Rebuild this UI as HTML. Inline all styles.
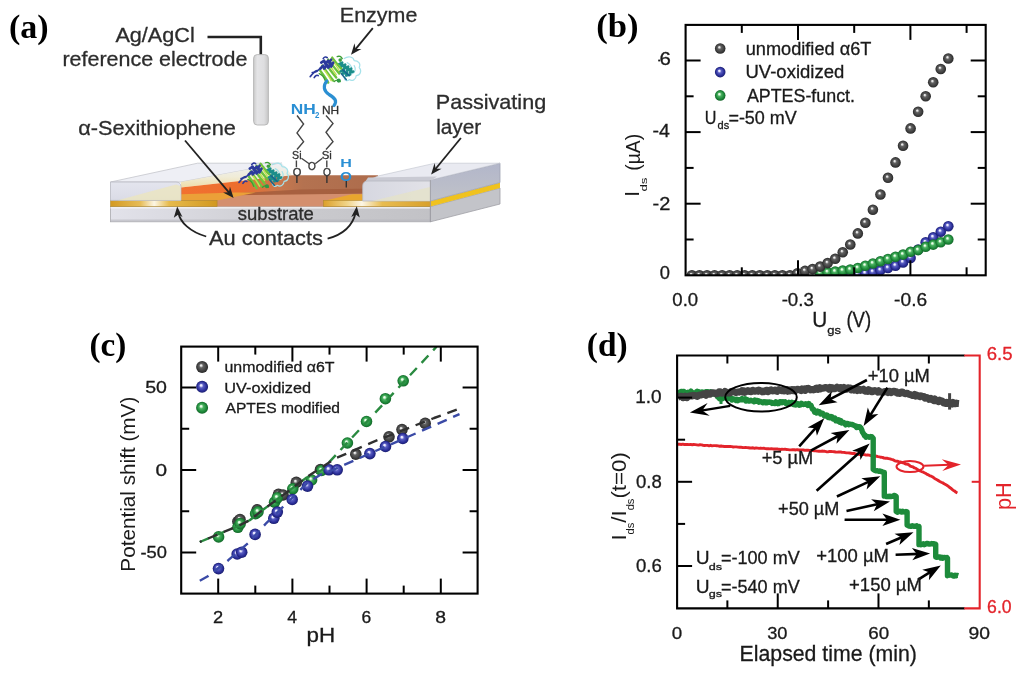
<!DOCTYPE html>
<html><head><meta charset="utf-8"><title>Figure</title>
<style>html,body{margin:0;padding:0;background:#fff;overflow:hidden}svg{display:block}</style>
</head><body>
<svg width="1024" height="673" viewBox="0 0 1024 673">
<rect width="1024" height="673" fill="#fff"/>

<defs>
<radialGradient id="gGrey" cx="0.5" cy="0.5" r="0.5" fx="0.4" fy="0.36">
 <stop offset="0" stop-color="#ffffff"/><stop offset="0.13" stop-color="#dedede"/><stop offset="0.34" stop-color="#626262"/><stop offset="0.75" stop-color="#404040"/><stop offset="1" stop-color="#272727"/></radialGradient>
<radialGradient id="gBlue" cx="0.5" cy="0.5" r="0.5" fx="0.4" fy="0.36">
 <stop offset="0" stop-color="#ffffff"/><stop offset="0.14" stop-color="#e4e4ff"/><stop offset="0.36" stop-color="#5a5ec2"/><stop offset="0.75" stop-color="#2b2f9a"/><stop offset="1" stop-color="#1b1e6e"/></radialGradient>
<radialGradient id="gGreen" cx="0.5" cy="0.5" r="0.5" fx="0.4" fy="0.36">
 <stop offset="0" stop-color="#ffffff"/><stop offset="0.14" stop-color="#dcf8dc"/><stop offset="0.36" stop-color="#4cb262"/><stop offset="0.75" stop-color="#1e8a3a"/><stop offset="1" stop-color="#146629"/></radialGradient>
<clipPath id="clipB"><rect x="686" y="25" width="299" height="250"/></clipPath>
<clipPath id="clipC"><rect x="182" y="347" width="295" height="246"/></clipPath>
<clipPath id="clipD"><rect x="678" y="356" width="301" height="252"/></clipPath>
</defs>

<text x="8.97" y="37.96" font-family="'Liberation Serif', 'Times New Roman', serif" font-weight="bold" font-size="32.75" fill="#000" stroke="#000" stroke-width="0" textLength="39.73" lengthAdjust="spacingAndGlyphs" >(a)</text>
<text x="596.24" y="36.54" font-family="'Liberation Serif', 'Times New Roman', serif" font-weight="bold" font-size="33.30" fill="#000" stroke="#000" stroke-width="0" textLength="42.32" lengthAdjust="spacingAndGlyphs" >(b)</text>
<text x="89.50" y="355.94" font-family="'Liberation Serif', 'Times New Roman', serif" font-weight="bold" font-size="32.86" fill="#000" stroke="#000" stroke-width="0" textLength="36.89" lengthAdjust="spacingAndGlyphs" >(c)</text>
<text x="586.80" y="355.78" font-family="'Liberation Serif', 'Times New Roman', serif" font-weight="bold" font-size="32.64" fill="#000" stroke="#000" stroke-width="0" textLength="40.81" lengthAdjust="spacingAndGlyphs" >(d)</text>
<g clip-path="url(#clipB)">
<circle cx="850.28" cy="275.30" r="5.30" fill="url(#gBlue)"/>
<circle cx="857.82" cy="274.30" r="5.30" fill="url(#gBlue)"/>
<circle cx="865.36" cy="273.30" r="5.30" fill="url(#gBlue)"/>
<circle cx="872.90" cy="271.90" r="5.30" fill="url(#gBlue)"/>
<circle cx="880.44" cy="270.20" r="5.30" fill="url(#gBlue)"/>
<circle cx="887.98" cy="268.00" r="5.30" fill="url(#gBlue)"/>
<circle cx="895.52" cy="265.70" r="5.30" fill="url(#gBlue)"/>
<circle cx="903.06" cy="262.40" r="5.30" fill="url(#gBlue)"/>
<circle cx="910.60" cy="257.90" r="5.30" fill="url(#gBlue)"/>
<circle cx="918.14" cy="249.50" r="5.30" fill="url(#gBlue)"/>
<circle cx="925.68" cy="242.30" r="5.30" fill="url(#gBlue)"/>
<circle cx="933.22" cy="237.30" r="5.30" fill="url(#gBlue)"/>
<circle cx="940.76" cy="231.70" r="5.30" fill="url(#gBlue)"/>
<circle cx="948.30" cy="226.20" r="5.30" fill="url(#gBlue)"/>
<circle cx="820.12" cy="273.00" r="5.30" fill="url(#gGreen)"/>
<circle cx="827.66" cy="272.20" r="5.30" fill="url(#gGreen)"/>
<circle cx="835.20" cy="271.60" r="5.30" fill="url(#gGreen)"/>
<circle cx="842.74" cy="270.60" r="5.30" fill="url(#gGreen)"/>
<circle cx="850.28" cy="269.60" r="5.30" fill="url(#gGreen)"/>
<circle cx="857.82" cy="268.00" r="5.30" fill="url(#gGreen)"/>
<circle cx="865.36" cy="265.70" r="5.30" fill="url(#gGreen)"/>
<circle cx="872.90" cy="263.50" r="5.30" fill="url(#gGreen)"/>
<circle cx="880.44" cy="261.30" r="5.30" fill="url(#gGreen)"/>
<circle cx="887.98" cy="259.00" r="5.30" fill="url(#gGreen)"/>
<circle cx="895.52" cy="256.80" r="5.30" fill="url(#gGreen)"/>
<circle cx="903.06" cy="254.60" r="5.30" fill="url(#gGreen)"/>
<circle cx="910.60" cy="251.80" r="5.30" fill="url(#gGreen)"/>
<circle cx="918.14" cy="250.10" r="5.30" fill="url(#gGreen)"/>
<circle cx="925.68" cy="246.80" r="5.30" fill="url(#gGreen)"/>
<circle cx="933.22" cy="244.60" r="5.30" fill="url(#gGreen)"/>
<circle cx="940.76" cy="242.30" r="5.30" fill="url(#gGreen)"/>
<circle cx="948.30" cy="239.50" r="5.30" fill="url(#gGreen)"/>
<circle cx="691.94" cy="275.30" r="5.30" fill="url(#gGrey)"/>
<circle cx="699.48" cy="275.30" r="5.30" fill="url(#gGrey)"/>
<circle cx="707.02" cy="275.30" r="5.30" fill="url(#gGrey)"/>
<circle cx="714.56" cy="275.30" r="5.30" fill="url(#gGrey)"/>
<circle cx="722.10" cy="275.30" r="5.30" fill="url(#gGrey)"/>
<circle cx="729.64" cy="275.30" r="5.30" fill="url(#gGrey)"/>
<circle cx="737.18" cy="275.30" r="5.30" fill="url(#gGrey)"/>
<circle cx="744.72" cy="275.30" r="5.30" fill="url(#gGrey)"/>
<circle cx="752.26" cy="275.30" r="5.30" fill="url(#gGrey)"/>
<circle cx="759.80" cy="275.30" r="5.30" fill="url(#gGrey)"/>
<circle cx="767.34" cy="275.30" r="5.30" fill="url(#gGrey)"/>
<circle cx="774.88" cy="275.30" r="5.30" fill="url(#gGrey)"/>
<circle cx="782.42" cy="275.30" r="5.30" fill="url(#gGrey)"/>
<circle cx="789.96" cy="275.30" r="5.30" fill="url(#gGrey)"/>
<circle cx="797.50" cy="273.30" r="5.30" fill="url(#gGrey)"/>
<circle cx="805.04" cy="270.90" r="5.30" fill="url(#gGrey)"/>
<circle cx="812.58" cy="269.10" r="5.30" fill="url(#gGrey)"/>
<circle cx="820.12" cy="266.60" r="5.30" fill="url(#gGrey)"/>
<circle cx="827.66" cy="263.10" r="5.30" fill="url(#gGrey)"/>
<circle cx="835.20" cy="258.80" r="5.30" fill="url(#gGrey)"/>
<circle cx="842.74" cy="252.30" r="5.30" fill="url(#gGrey)"/>
<circle cx="850.28" cy="244.50" r="5.30" fill="url(#gGrey)"/>
<circle cx="857.82" cy="233.40" r="5.30" fill="url(#gGrey)"/>
<circle cx="865.36" cy="222.70" r="5.30" fill="url(#gGrey)"/>
<circle cx="872.90" cy="209.70" r="5.30" fill="url(#gGrey)"/>
<circle cx="880.44" cy="194.50" r="5.30" fill="url(#gGrey)"/>
<circle cx="887.98" cy="177.80" r="5.30" fill="url(#gGrey)"/>
<circle cx="895.52" cy="162.40" r="5.30" fill="url(#gGrey)"/>
<circle cx="903.06" cy="145.70" r="5.30" fill="url(#gGrey)"/>
<circle cx="910.60" cy="128.40" r="5.30" fill="url(#gGrey)"/>
<circle cx="918.14" cy="111.80" r="5.30" fill="url(#gGrey)"/>
<circle cx="925.68" cy="96.30" r="5.30" fill="url(#gGrey)"/>
<circle cx="933.22" cy="82.30" r="5.30" fill="url(#gGrey)"/>
<circle cx="940.76" cy="69.00" r="5.30" fill="url(#gGrey)"/>
<circle cx="948.30" cy="58.50" r="5.30" fill="url(#gGrey)"/>
</g>
<rect x="685.6" y="24.9" width="300.10" height="250.40" fill="none" stroke="#000" stroke-width="2.1"/>
<line x1="741.80" y1="275.30" x2="741.80" y2="267.30" stroke="#000" stroke-width="2" />
<line x1="741.80" y1="24.90" x2="741.80" y2="32.90" stroke="#000" stroke-width="2" />
<line x1="798.00" y1="275.30" x2="798.00" y2="260.30" stroke="#000" stroke-width="2" />
<line x1="798.00" y1="24.90" x2="798.00" y2="39.90" stroke="#000" stroke-width="2" />
<line x1="854.20" y1="275.30" x2="854.20" y2="267.30" stroke="#000" stroke-width="2" />
<line x1="854.20" y1="24.90" x2="854.20" y2="32.90" stroke="#000" stroke-width="2" />
<line x1="910.40" y1="275.30" x2="910.40" y2="260.30" stroke="#000" stroke-width="2" />
<line x1="910.40" y1="24.90" x2="910.40" y2="39.90" stroke="#000" stroke-width="2" />
<line x1="966.60" y1="275.30" x2="966.60" y2="267.30" stroke="#000" stroke-width="2" />
<line x1="966.60" y1="24.90" x2="966.60" y2="32.90" stroke="#000" stroke-width="2" />
<line x1="685.60" y1="239.50" x2="693.60" y2="239.50" stroke="#000" stroke-width="2" />
<line x1="985.70" y1="239.50" x2="977.70" y2="239.50" stroke="#000" stroke-width="2" />
<line x1="685.60" y1="203.70" x2="700.60" y2="203.70" stroke="#000" stroke-width="2" />
<line x1="985.70" y1="203.70" x2="970.70" y2="203.70" stroke="#000" stroke-width="2" />
<line x1="685.60" y1="167.90" x2="693.60" y2="167.90" stroke="#000" stroke-width="2" />
<line x1="985.70" y1="167.90" x2="977.70" y2="167.90" stroke="#000" stroke-width="2" />
<line x1="685.60" y1="132.10" x2="700.60" y2="132.10" stroke="#000" stroke-width="2" />
<line x1="985.70" y1="132.10" x2="970.70" y2="132.10" stroke="#000" stroke-width="2" />
<line x1="685.60" y1="96.30" x2="693.60" y2="96.30" stroke="#000" stroke-width="2" />
<line x1="985.70" y1="96.30" x2="977.70" y2="96.30" stroke="#000" stroke-width="2" />
<line x1="685.60" y1="60.50" x2="700.60" y2="60.50" stroke="#000" stroke-width="2" />
<line x1="985.70" y1="60.50" x2="970.70" y2="60.50" stroke="#000" stroke-width="2" />
<text x="659.87" y="279.10" font-family="'Liberation Sans', Arial, sans-serif" font-size="17.60" fill="#1a1a1a" stroke="#1a1a1a" stroke-width="0.3" textLength="10.20" lengthAdjust="spacingAndGlyphs" >0</text>
<text x="652.60" y="209.60" font-family="'Liberation Sans', Arial, sans-serif" font-size="17.60" fill="#1a1a1a" stroke="#1a1a1a" stroke-width="0.3" textLength="17.78" lengthAdjust="spacingAndGlyphs" >-2</text>
<text x="652.62" y="137.20" font-family="'Liberation Sans', Arial, sans-serif" font-size="17.60" fill="#1a1a1a" stroke="#1a1a1a" stroke-width="0.3" textLength="17.35" lengthAdjust="spacingAndGlyphs" >-4</text>
<text x="659.58" y="64.80" font-family="'Liberation Sans', Arial, sans-serif" font-size="17.60" fill="#1a1a1a" stroke="#1a1a1a" stroke-width="0.3" textLength="11.36" lengthAdjust="spacingAndGlyphs" >6</text>
<rect x="658.2" y="59.6" width="1.8" height="1.8" fill="#1a1a1a"/>
<text x="672.36" y="305.60" font-family="'Liberation Sans', Arial, sans-serif" font-size="17.60" fill="#1a1a1a" stroke="#1a1a1a" stroke-width="0.3" textLength="25.79" lengthAdjust="spacingAndGlyphs" >0.0</text>
<text x="781.66" y="305.60" font-family="'Liberation Sans', Arial, sans-serif" font-size="17.60" fill="#1a1a1a" stroke="#1a1a1a" stroke-width="0.3" textLength="32.15" lengthAdjust="spacingAndGlyphs" >-0.3</text>
<text x="894.14" y="305.60" font-family="'Liberation Sans', Arial, sans-serif" font-size="17.60" fill="#1a1a1a" stroke="#1a1a1a" stroke-width="0.3" textLength="32.99" lengthAdjust="spacingAndGlyphs" >-0.6</text>
<text x="812.19" y="326.90" font-family="'Liberation Sans', Arial, sans-serif" font-size="22.00" fill="#1a1a1a" stroke="#1a1a1a" stroke-width="0.3" textLength="15.01" lengthAdjust="spacingAndGlyphs" >U</text>
<text x="827.18" y="333.60" font-family="'Liberation Sans', Arial, sans-serif" font-size="10.50" fill="#1a1a1a" stroke="#1a1a1a" stroke-width="0.3" textLength="13.69" lengthAdjust="spacingAndGlyphs" >gs</text>
<text x="846.38" y="326.90" font-family="'Liberation Sans', Arial, sans-serif" font-size="22.00" fill="#1a1a1a" stroke="#1a1a1a" stroke-width="0.3" textLength="24.79" lengthAdjust="spacingAndGlyphs" >(V)</text>
<g transform="translate(639.4,196.8) rotate(-90)"><text x="0" y="0" font-family="'Liberation Sans', Arial, sans-serif" font-size="20.7" fill="#1a1a1a">I</text></g>
<g transform="translate(646.50,191.00) rotate(-90)"><text x="-0.53" y="0" font-family="'Liberation Sans', Arial, sans-serif" font-size="9.80" fill="#1a1a1a" textLength="14.01" lengthAdjust="spacingAndGlyphs">ds</text></g>
<g transform="translate(640.00,169.60) rotate(-90)"><text x="-1.16" y="0" font-family="'Liberation Sans', Arial, sans-serif" font-size="20.50" fill="#1a1a1a" textLength="36.90" lengthAdjust="spacingAndGlyphs">(µA)</text></g>
<circle cx="720.20" cy="48.50" r="5.30" fill="url(#gGrey)"/>
<circle cx="720.20" cy="72.10" r="5.30" fill="url(#gBlue)"/>
<circle cx="720.20" cy="95.40" r="5.30" fill="url(#gGreen)"/>
<text x="745.72" y="55.30" font-family="'Liberation Sans', Arial, sans-serif" font-size="18.00" fill="#1a1a1a" stroke="#1a1a1a" stroke-width="0.3" textLength="125.65" lengthAdjust="spacingAndGlyphs" >unmodified α6T</text>
<text x="745.51" y="78.40" font-family="'Liberation Sans', Arial, sans-serif" font-size="18.00" fill="#1a1a1a" stroke="#1a1a1a" stroke-width="0.3" textLength="98.71" lengthAdjust="spacingAndGlyphs" >UV-oxidized</text>
<text x="746.90" y="101.80" font-family="'Liberation Sans', Arial, sans-serif" font-size="18.00" fill="#1a1a1a" stroke="#1a1a1a" stroke-width="0.3" textLength="108.16" lengthAdjust="spacingAndGlyphs" >APTES-funct.</text>
<text x="704.69" y="123.60" font-family="'Liberation Sans', Arial, sans-serif" font-size="17.60" fill="#1a1a1a" stroke="#1a1a1a" stroke-width="0.3" textLength="11.66" lengthAdjust="spacingAndGlyphs" >U</text>
<text x="717.56" y="128.90" font-family="'Liberation Sans', Arial, sans-serif" font-size="10.70" fill="#1a1a1a" stroke="#1a1a1a" stroke-width="0.3" textLength="11.64" lengthAdjust="spacingAndGlyphs" >ds</text>
<text x="728.40" y="123.60" font-family="'Liberation Sans', Arial, sans-serif" font-size="18.00" fill="#1a1a1a" stroke="#1a1a1a" stroke-width="0.3" textLength="68.43" lengthAdjust="spacingAndGlyphs" >=-50 mV</text>
<g clip-path="url(#clipC)">
<circle cx="237.90" cy="521.50" r="5.80" fill="url(#gGrey)"/>
<circle cx="240.00" cy="519.50" r="5.80" fill="url(#gGrey)"/>
<circle cx="257.20" cy="509.90" r="5.80" fill="url(#gGrey)"/>
<circle cx="278.50" cy="494.40" r="5.80" fill="url(#gGrey)"/>
<circle cx="283.00" cy="495.00" r="5.80" fill="url(#gGrey)"/>
<circle cx="296.30" cy="482.40" r="5.80" fill="url(#gGrey)"/>
<circle cx="320.50" cy="469.50" r="5.80" fill="url(#gGrey)"/>
<circle cx="355.80" cy="454.20" r="5.80" fill="url(#gGrey)"/>
<circle cx="389.00" cy="436.80" r="5.80" fill="url(#gGrey)"/>
<circle cx="402.00" cy="429.60" r="5.80" fill="url(#gGrey)"/>
<circle cx="425.20" cy="423.40" r="5.80" fill="url(#gGrey)"/>
<circle cx="218.60" cy="536.90" r="5.80" fill="url(#gGreen)"/>
<circle cx="237.90" cy="527.30" r="5.80" fill="url(#gGreen)"/>
<circle cx="240.20" cy="523.60" r="5.80" fill="url(#gGreen)"/>
<circle cx="255.60" cy="513.70" r="5.80" fill="url(#gGreen)"/>
<circle cx="258.00" cy="511.80" r="5.80" fill="url(#gGreen)"/>
<circle cx="274.60" cy="502.20" r="5.80" fill="url(#gGreen)"/>
<circle cx="277.30" cy="497.80" r="5.80" fill="url(#gGreen)"/>
<circle cx="292.80" cy="488.80" r="5.80" fill="url(#gGreen)"/>
<circle cx="311.60" cy="480.00" r="5.80" fill="url(#gGreen)"/>
<circle cx="321.60" cy="470.50" r="5.80" fill="url(#gGreen)"/>
<circle cx="347.40" cy="443.00" r="5.80" fill="url(#gGreen)"/>
<circle cx="366.50" cy="421.50" r="5.80" fill="url(#gGreen)"/>
<circle cx="385.40" cy="398.70" r="5.80" fill="url(#gGreen)"/>
<circle cx="403.20" cy="380.80" r="5.80" fill="url(#gGreen)"/>
<circle cx="218.50" cy="568.60" r="5.80" fill="url(#gBlue)"/>
<circle cx="237.20" cy="554.00" r="5.80" fill="url(#gBlue)"/>
<circle cx="241.70" cy="552.20" r="5.80" fill="url(#gBlue)"/>
<circle cx="255.10" cy="534.40" r="5.80" fill="url(#gBlue)"/>
<circle cx="273.80" cy="518.30" r="5.80" fill="url(#gBlue)"/>
<circle cx="277.30" cy="512.10" r="5.80" fill="url(#gBlue)"/>
<circle cx="292.20" cy="499.50" r="5.80" fill="url(#gBlue)"/>
<circle cx="307.50" cy="486.10" r="5.80" fill="url(#gBlue)"/>
<circle cx="329.00" cy="469.80" r="5.80" fill="url(#gBlue)"/>
<circle cx="337.20" cy="469.80" r="5.80" fill="url(#gBlue)"/>
<circle cx="369.90" cy="453.60" r="5.80" fill="url(#gBlue)"/>
<circle cx="385.50" cy="446.50" r="5.80" fill="url(#gBlue)"/>
<circle cx="402.80" cy="438.50" r="5.80" fill="url(#gBlue)"/>
</g>
<g clip-path="url(#clipC)" fill="none" stroke-width="2.4" stroke-dasharray="10,7" stroke-linejoin="round">
<path d="M199.8,542 L217.6,534.5 L236,527 L249.7,520.2 L264.7,508.5 L290,490 L306.7,477.5 L321.9,470 L339.3,451.3 L436.5,346.8" stroke="#2a8a40"/>
<path d="M199.8,542 L217.6,534.5 L236,527 L249.7,520.2 L264.7,508.5 L290,490 L306.7,477 L321,467.8 L335,458.6 L345.4,454.2 L372.1,442.3 L434.1,418 L459.5,408.7" stroke="#303030" stroke-dashoffset="8"/>
<path d="M199.8,580.7 L207.8,576.3 L228.3,560.2 L248.8,542.4 L266.6,522.8 L290,500 L307.4,482.9 L320,475 L334.4,469.3 L376.6,450.5 L434.8,425.1 L459.5,414.1" stroke="#3a4aa6"/>
</g>
<rect x="181.2" y="346.6" width="296.40" height="247.00" fill="none" stroke="#000" stroke-width="2.1"/>
<line x1="218.20" y1="593.60" x2="218.20" y2="578.60" stroke="#000" stroke-width="2" />
<line x1="218.20" y1="346.60" x2="218.20" y2="361.60" stroke="#000" stroke-width="2" />
<line x1="255.30" y1="593.60" x2="255.30" y2="585.60" stroke="#000" stroke-width="2" />
<line x1="255.30" y1="346.60" x2="255.30" y2="354.60" stroke="#000" stroke-width="2" />
<line x1="292.40" y1="593.60" x2="292.40" y2="578.60" stroke="#000" stroke-width="2" />
<line x1="292.40" y1="346.60" x2="292.40" y2="361.60" stroke="#000" stroke-width="2" />
<line x1="329.50" y1="593.60" x2="329.50" y2="585.60" stroke="#000" stroke-width="2" />
<line x1="329.50" y1="346.60" x2="329.50" y2="354.60" stroke="#000" stroke-width="2" />
<line x1="366.60" y1="593.60" x2="366.60" y2="578.60" stroke="#000" stroke-width="2" />
<line x1="366.60" y1="346.60" x2="366.60" y2="361.60" stroke="#000" stroke-width="2" />
<line x1="403.70" y1="593.60" x2="403.70" y2="585.60" stroke="#000" stroke-width="2" />
<line x1="403.70" y1="346.60" x2="403.70" y2="354.60" stroke="#000" stroke-width="2" />
<line x1="440.80" y1="593.60" x2="440.80" y2="578.60" stroke="#000" stroke-width="2" />
<line x1="440.80" y1="346.60" x2="440.80" y2="361.60" stroke="#000" stroke-width="2" />
<line x1="181.20" y1="552.50" x2="196.20" y2="552.50" stroke="#000" stroke-width="2" />
<line x1="477.60" y1="552.50" x2="462.60" y2="552.50" stroke="#000" stroke-width="2" />
<line x1="181.20" y1="511.25" x2="189.20" y2="511.25" stroke="#000" stroke-width="2" />
<line x1="477.60" y1="511.25" x2="469.60" y2="511.25" stroke="#000" stroke-width="2" />
<line x1="181.20" y1="470.00" x2="196.20" y2="470.00" stroke="#000" stroke-width="2" />
<line x1="477.60" y1="470.00" x2="462.60" y2="470.00" stroke="#000" stroke-width="2" />
<line x1="181.20" y1="428.75" x2="189.20" y2="428.75" stroke="#000" stroke-width="2" />
<line x1="477.60" y1="428.75" x2="469.60" y2="428.75" stroke="#000" stroke-width="2" />
<line x1="181.20" y1="387.50" x2="196.20" y2="387.50" stroke="#000" stroke-width="2" />
<line x1="477.60" y1="387.50" x2="462.60" y2="387.50" stroke="#000" stroke-width="2" />
<text x="145.22" y="393.40" font-family="'Liberation Sans', Arial, sans-serif" font-size="17.30" fill="#1a1a1a" stroke="#1a1a1a" stroke-width="0.3" textLength="21.76" lengthAdjust="spacingAndGlyphs" >50</text>
<text x="155.42" y="475.60" font-family="'Liberation Sans', Arial, sans-serif" font-size="17.30" fill="#1a1a1a" stroke="#1a1a1a" stroke-width="0.3" textLength="11.59" lengthAdjust="spacingAndGlyphs" >0</text>
<text x="140.43" y="557.50" font-family="'Liberation Sans', Arial, sans-serif" font-size="17.30" fill="#1a1a1a" stroke="#1a1a1a" stroke-width="0.3" textLength="26.47" lengthAdjust="spacingAndGlyphs" >-50</text>
<text x="213.09" y="623.00" font-family="'Liberation Sans', Arial, sans-serif" font-size="16.70" fill="#1a1a1a" stroke="#1a1a1a" stroke-width="0.3" textLength="10.15" lengthAdjust="spacingAndGlyphs" >2</text>
<text x="287.25" y="623.00" font-family="'Liberation Sans', Arial, sans-serif" font-size="16.70" fill="#1a1a1a" stroke="#1a1a1a" stroke-width="0.3" textLength="9.80" lengthAdjust="spacingAndGlyphs" >4</text>
<text x="361.63" y="623.00" font-family="'Liberation Sans', Arial, sans-serif" font-size="16.70" fill="#1a1a1a" stroke="#1a1a1a" stroke-width="0.3" textLength="9.69" lengthAdjust="spacingAndGlyphs" >6</text>
<text x="435.33" y="623.00" font-family="'Liberation Sans', Arial, sans-serif" font-size="16.70" fill="#1a1a1a" stroke="#1a1a1a" stroke-width="0.3" textLength="10.77" lengthAdjust="spacingAndGlyphs" >8</text>
<text x="306.54" y="642.00" font-family="'Liberation Sans', Arial, sans-serif" font-size="20.20" fill="#1a1a1a" stroke="#1a1a1a" stroke-width="0.3" textLength="28.62" lengthAdjust="spacingAndGlyphs" >pH</text>
<g transform="translate(135.00,570.00) rotate(-90)"><text x="-1.66" y="0" font-family="'Liberation Sans', Arial, sans-serif" font-size="20.00" fill="#1a1a1a" textLength="174.95" lengthAdjust="spacingAndGlyphs">Potential shift (mV)</text></g>
<circle cx="202.10" cy="366.90" r="6.00" fill="url(#gGrey)"/>
<circle cx="202.10" cy="386.80" r="6.00" fill="url(#gBlue)"/>
<circle cx="202.10" cy="407.70" r="6.00" fill="url(#gGreen)"/>
<text x="224.47" y="372.20" font-family="'Liberation Sans', Arial, sans-serif" font-size="15.50" fill="#1a1a1a" stroke="#1a1a1a" stroke-width="0.3" textLength="110.06" lengthAdjust="spacingAndGlyphs" >unmodified α6T</text>
<text x="224.28" y="392.60" font-family="'Liberation Sans', Arial, sans-serif" font-size="15.50" fill="#1a1a1a" stroke="#1a1a1a" stroke-width="0.3" textLength="86.80" lengthAdjust="spacingAndGlyphs" >UV-oxidized</text>
<text x="225.50" y="413.00" font-family="'Liberation Sans', Arial, sans-serif" font-size="15.50" fill="#1a1a1a" stroke="#1a1a1a" stroke-width="0.3" textLength="114.54" lengthAdjust="spacingAndGlyphs" >APTES modified</text>
<g clip-path="url(#clipD)" fill="none" stroke-linejoin="round">
<polyline points="678.00,444.19 679.57,444.14 681.14,444.49 682.71,444.19 684.29,444.52 685.86,444.47 687.43,444.33 689.00,444.65 690.57,444.42 692.14,444.71 693.71,444.54 695.29,444.60 696.86,444.85 698.43,445.15 700.00,444.77 701.52,444.92 703.03,445.25 704.55,445.52 706.06,445.39 707.58,445.36 709.09,445.79 710.61,445.32 712.12,445.89 713.64,445.64 715.15,445.64 716.67,445.70 718.18,445.90 719.70,446.29 721.21,446.00 722.73,446.32 724.24,446.44 725.76,446.37 727.27,446.56 728.79,446.35 730.30,446.43 731.82,446.61 733.33,446.97 734.85,446.91 736.36,446.92 737.88,447.17 739.39,447.18 740.91,447.17 742.42,447.55 743.94,447.58 745.45,447.39 746.97,447.67 748.48,447.73 750.00,448.03 751.52,448.01 753.05,447.81 754.57,448.29 756.09,447.84 757.62,448.09 759.14,448.36 760.67,448.07 762.19,448.34 763.71,448.14 765.24,448.59 766.76,448.71 768.28,448.66 769.81,448.91 771.33,448.65 772.86,448.94 774.38,448.95 775.90,449.01 777.43,449.01 778.95,449.30 780.47,449.44 782.00,449.22 783.52,449.40 785.04,449.11 786.57,449.56 788.09,449.60 789.62,449.87 791.14,449.84 792.66,449.59 794.19,449.72 795.71,449.95 797.23,449.63 798.76,449.97 800.28,449.86 801.81,449.90 803.33,449.93 804.85,450.42 806.38,450.11 807.90,450.25 809.44,450.42 810.99,450.80 812.53,450.41 814.08,450.72 815.62,450.87 817.16,451.16 818.71,451.21 820.25,451.32 821.80,451.06 823.34,451.23 824.88,451.28 826.43,451.69 827.97,451.82 829.52,451.42 831.06,451.53 832.60,451.65 834.15,451.74 835.69,451.97 837.24,452.13 838.78,452.02 840.32,451.95 841.87,452.29 843.41,452.35 844.96,452.55 846.50,452.87 848.01,452.90 849.51,452.99 851.02,453.24 852.52,453.46 854.03,453.28 855.53,453.97 857.04,454.09 858.54,454.34 860.05,454.48 861.56,454.42 863.06,454.62 864.57,454.63 866.07,455.14 867.58,454.98 869.08,455.17 870.59,455.45 872.09,455.61 873.60,455.90 875.09,456.00 876.58,456.25 878.07,456.61 879.56,456.85 881.05,457.28 882.55,457.35 884.04,458.13 885.53,458.25 887.02,458.24 888.51,458.58 890.00,458.91 891.46,459.37 892.92,459.67 894.38,460.56 895.83,461.10 897.29,461.23 898.75,461.69 900.21,461.90 901.67,462.36 903.12,462.96 904.58,463.36 906.04,464.15 907.50,464.20 908.90,464.81 910.30,466.07 911.70,466.52 913.10,466.99 914.50,467.93 915.90,468.32 917.30,469.32 918.70,470.29 920.10,470.92 921.50,471.52 922.90,471.96 924.30,472.72 925.70,473.30 927.10,474.36 928.50,474.92 929.90,475.77 931.30,476.20 932.72,476.96 934.14,478.15 935.56,479.08 936.98,479.83 938.40,480.63 939.82,481.47 941.24,482.25 942.66,482.78 944.08,483.78 945.50,484.51 946.82,485.25 948.14,486.18 949.47,487.27 950.79,488.19 952.11,489.38 953.43,490.47 954.76,491.10 956.08,492.33 957.40,493.00" stroke="#e3242b" stroke-width="2.9" fill="none" />
<polyline points="678.00,393.57 679.00,393.48 680.00,391.94 681.00,391.56 682.00,391.57 683.00,391.49 684.00,391.50 685.00,392.59 686.00,393.30 687.00,393.14 688.00,392.20 689.00,392.65 690.00,393.02 691.00,391.16 692.00,392.65 693.00,393.30 694.00,392.96 695.00,392.87 696.00,392.16 697.00,391.38 698.00,392.96 699.00,391.77 700.00,392.98 701.00,393.48 702.00,392.03 703.00,392.09 704.00,393.56 705.00,393.03 706.00,391.64 707.00,391.58 708.00,391.69 709.00,393.70 710.00,393.50 711.00,391.83 712.00,393.65 713.00,394.10 714.00,393.31 715.00,392.56 716.00,393.13 716.50,392.94 717.00,393.54 717.50,396.92 718.00,396.99 718.50,397.57 719.53,398.74 720.56,397.55 721.59,398.80 722.62,398.80 723.66,397.31 724.69,397.53 725.72,397.75 726.75,397.73 727.78,398.74 728.81,398.00 729.84,398.53 730.88,397.89 731.91,400.03 732.94,398.69 733.97,399.08 735.00,399.52 736.00,400.44 737.00,399.27 738.00,400.64 739.00,399.65 740.00,399.81 741.00,399.88 742.00,398.65 743.00,399.83 744.00,399.25 745.00,398.87 746.00,401.03 747.00,399.48 748.00,400.35 749.00,401.09 750.00,400.74 751.00,400.23 752.00,400.81 753.00,401.00 754.00,401.68 755.00,400.00 756.00,401.27 757.00,400.54 758.00,400.70 759.00,402.08 760.00,401.48 761.00,401.70 762.00,402.30 763.00,402.79 764.00,401.65 765.00,402.15 766.00,401.92 767.00,402.00 768.00,402.52 769.00,401.95 770.00,402.22 771.00,402.13 772.00,403.39 773.00,402.81 774.00,403.33 775.00,403.56 776.00,401.84 777.00,402.67 778.00,403.72 779.00,403.51 780.00,401.74 781.00,401.75 782.00,402.64 783.00,401.74 784.00,402.23 785.00,401.85 786.00,403.45 787.00,403.81 788.00,404.16 789.00,402.28 790.00,403.80 791.00,403.71 792.00,402.42 793.00,404.40 794.06,404.72 795.11,402.87 796.17,404.88 797.23,403.54 798.28,403.87 799.34,405.27 800.39,404.96 801.45,403.32 802.51,404.12 803.56,404.44 804.62,404.08 805.67,403.81 806.73,404.23 807.79,405.38 808.84,403.65 809.90,405.14 810.53,405.78 811.17,405.61 811.80,407.36 812.43,409.06 813.07,409.70 813.70,409.47 814.67,412.24 815.63,412.12 816.60,412.98 817.57,411.11 818.53,411.91 819.50,411.70 820.47,414.01 821.43,413.07 822.40,413.09 823.37,414.23 824.33,415.89 825.30,416.03 826.26,414.98 827.23,415.10 828.19,417.50 829.15,417.00 830.12,417.74 831.08,416.56 832.05,416.88 833.01,418.93 833.97,418.65 834.94,418.13 835.90,420.79 836.86,420.40 837.83,421.24 838.79,419.78 839.75,422.19 840.72,420.55 841.68,423.02 842.65,422.36 843.61,422.47 844.57,423.43 845.54,424.80 846.50,423.50 847.51,423.40 848.51,424.70 849.52,424.21 850.53,424.14 851.54,424.54 852.54,424.52 853.55,425.17 854.56,425.73 855.56,425.97 856.57,427.42 857.58,426.46 858.59,427.27 859.59,426.70 860.60,427.80 860.60,427.59 861.03,428.08 861.47,429.35 861.90,429.97 862.33,431.93 862.77,432.62 863.20,433.07 863.90,434.26 864.60,435.71 865.30,435.35 866.00,437.15 867.14,436.61 868.28,436.69 869.42,437.17 870.56,436.55 871.70,436.71 873.20,438.26 873.20,439.68 873.20,439.79 873.20,441.47 873.20,442.30 873.20,443.21 873.20,443.89 873.20,444.81 873.20,445.40 873.20,446.51 873.20,447.43 873.20,449.37 873.20,449.70 873.20,450.57 873.20,451.46 873.20,453.52 873.20,454.57 873.20,455.29 873.20,455.75 873.20,456.70 873.20,457.77 873.20,459.01 873.20,459.59 873.20,461.00 873.20,461.74 873.20,463.72 873.20,464.74 873.20,465.15 873.20,465.73 873.20,467.74 873.20,467.83 873.20,468.90 873.20,469.40 874.27,470.18 875.33,470.55 876.40,470.84 877.47,470.66 878.53,471.33 879.60,470.87 880.67,471.48 881.73,471.48 882.80,472.16 884.30,472.36 884.30,473.34 884.30,474.73 884.30,475.64 884.30,477.14 884.30,478.06 884.30,479.38 884.30,480.25 884.30,481.34 884.30,482.57 884.30,482.89 884.30,483.80 884.30,485.73 884.30,485.57 884.30,487.37 884.30,488.27 884.30,488.43 884.30,490.54 884.30,491.63 884.30,492.26 884.30,493.41 884.30,494.53 884.30,494.59 884.30,496.13 885.34,496.11 886.38,496.57 887.42,496.53 888.46,496.56 889.50,496.22 890.54,496.65 891.58,496.36 892.62,496.37 893.66,495.72 894.70,495.44 896.20,496.49 896.20,497.80 896.20,498.45 896.20,500.47 896.20,501.08 896.20,502.18 896.20,503.18 896.20,504.25 896.20,504.99 896.20,505.30 896.20,507.42 896.20,508.35 896.20,509.00 896.20,510.05 896.20,511.22 896.20,511.39 897.29,512.28 898.38,511.54 899.47,511.24 900.56,511.45 901.64,512.04 902.73,511.25 903.82,511.95 904.91,512.22 906.00,511.49 907.10,511.84 907.10,513.03 907.10,514.38 907.10,515.56 907.10,516.41 907.10,517.51 907.10,517.78 907.10,518.94 907.10,520.15 907.10,521.89 907.10,522.34 907.10,523.77 907.10,524.06 907.10,525.18 908.17,525.54 909.24,526.16 910.31,526.25 911.38,526.29 912.45,525.81 913.52,526.18 914.59,526.17 915.66,526.23 916.73,525.81 917.80,526.95 919.00,526.58 919.00,528.68 919.00,529.63 919.00,529.36 919.00,530.99 919.00,532.51 919.00,533.73 919.00,534.01 919.00,534.77 919.00,535.70 919.00,537.74 919.00,537.72 919.00,539.26 919.00,539.65 919.00,541.20 919.00,542.81 919.00,542.67 919.00,544.65 920.06,544.20 921.13,544.71 922.19,544.44 923.26,543.77 924.32,544.69 925.39,544.09 926.45,543.43 927.51,543.39 928.58,544.06 929.64,543.99 930.71,543.77 931.77,543.53 932.84,543.80 933.90,543.74 934.80,544.98 935.70,544.30 935.70,546.38 935.70,547.52 935.70,547.54 935.70,549.70 935.70,550.42 935.70,551.71 935.70,551.88 935.70,553.02 935.70,554.08 935.70,555.95 935.70,556.40 935.70,557.10 936.72,557.25 937.74,557.09 938.75,556.83 939.77,556.96 940.79,558.04 941.81,557.33 942.83,558.29 943.85,557.39 944.86,557.46 945.88,557.86 946.90,557.47 947.50,558.32 947.50,560.18 947.50,561.11 947.50,562.05 947.50,562.83 947.50,564.27 947.50,565.34 947.50,565.83 947.50,567.11 947.50,567.21 947.50,569.20 947.50,569.84 947.50,571.30 947.50,572.19 947.50,572.73 947.50,573.43 947.50,575.70 948.57,574.64 949.64,575.18 950.71,575.06 951.78,575.06 952.85,575.73 953.92,576.13 954.99,575.18 956.06,575.80 957.13,575.36 958.20,575.70" stroke="#1d8b3b" stroke-width="5.4" fill="none" />
<polyline points="721.00,396.00 721.00,404.00" stroke="#1d8b3b" stroke-width="3" fill="none" />
<polyline points="766.00,401.00 766.00,405.50" stroke="#1d8b3b" stroke-width="3" fill="none" />
<polyline points="678.00,397.11 679.00,396.76 680.00,396.27 681.00,396.22 682.00,396.28 683.00,397.65 684.00,396.79 685.00,396.21 686.00,397.55 687.00,397.69 688.00,396.57 689.00,395.91 690.00,395.98 691.00,395.64 692.00,396.00 693.00,395.36 694.00,395.52 695.00,395.42 696.00,395.90 697.00,396.39 698.00,395.98 699.00,395.17 700.00,395.03 701.00,395.09 702.00,394.63 703.00,394.40 704.00,393.68 705.00,393.96 706.00,395.18 707.00,393.33 708.00,393.93 709.00,394.02 710.00,394.33 711.00,392.93 712.00,392.94 713.00,392.80 714.00,393.00 715.00,392.99 716.00,393.91 717.00,393.60 718.00,393.55 719.00,391.74 720.00,391.66 721.00,392.97 722.00,393.29 723.00,392.40 724.00,392.57 725.00,391.35 726.00,392.08 727.00,393.10 728.00,392.85 729.00,392.86 730.00,393.04 731.00,391.55 732.00,391.22 733.00,391.26 734.00,391.94 735.00,392.21 736.00,392.68 737.00,392.19 738.00,391.99 739.00,392.18 740.00,391.51 741.00,391.67 742.00,390.62 743.00,392.07 744.00,390.95 745.00,392.29 746.00,391.71 747.00,391.00 748.00,390.62 749.00,390.83 750.00,391.57 751.00,391.67 752.00,390.46 753.00,390.35 754.00,391.23 755.00,391.32 756.00,390.90 757.00,390.54 758.00,391.26 759.00,390.05 760.00,390.60 761.00,390.89 762.00,391.86 763.00,391.21 764.00,391.66 765.00,390.82 766.00,390.31 767.00,390.31 768.00,391.71 769.00,391.17 770.00,390.35 771.00,389.75 772.00,390.68 773.00,391.00 774.00,390.47 775.00,390.11 776.00,390.91 777.00,391.40 778.00,389.97 779.00,389.56 780.00,390.14 781.00,390.28 782.00,390.78 783.00,389.78 784.00,390.95 785.00,390.81 786.00,390.32 787.00,389.69 788.00,391.19 789.00,389.85 790.00,390.84 791.00,389.62 792.00,389.56 793.00,390.60 794.00,389.63 795.00,390.90 796.00,389.95 797.00,389.29 798.00,389.33 799.00,389.67 800.00,390.13 801.05,390.63 802.09,388.95 803.14,389.38 804.19,388.94 805.24,390.40 806.28,388.66 807.33,388.41 808.38,388.36 809.42,388.95 810.47,389.89 811.52,389.79 812.56,389.42 813.61,389.88 814.66,389.67 815.71,388.40 816.75,388.04 817.80,389.47 818.81,389.07 819.82,387.61 820.83,388.85 821.84,388.25 822.85,388.21 823.85,388.10 824.86,387.75 825.87,387.39 826.88,387.91 827.89,388.03 828.90,389.21 829.91,387.52 830.92,389.17 831.93,387.63 832.94,387.90 833.95,388.81 834.95,388.78 835.96,387.97 836.97,387.18 837.98,388.00 838.99,387.77 840.00,388.84 841.02,387.48 842.03,387.92 843.05,389.08 844.07,387.44 845.09,388.30 846.10,389.20 847.12,389.20 848.14,387.85 849.16,387.93 850.17,388.08 851.19,389.89 852.21,388.66 853.23,389.74 854.24,390.14 855.26,389.11 856.28,389.08 857.30,390.54 858.31,389.96 859.33,389.34 860.35,390.35 861.37,389.64 862.38,389.66 863.40,389.21 864.42,390.79 865.44,391.19 866.47,390.70 867.49,391.40 868.51,389.64 869.53,390.14 870.55,390.70 871.57,391.74 872.60,391.81 873.62,390.76 874.64,390.56 875.66,391.00 876.68,391.20 877.70,392.15 878.73,390.74 879.75,392.06 880.77,392.01 881.79,392.25 882.81,392.23 883.83,391.98 884.86,391.50 885.88,391.56 886.90,391.72 887.96,392.59 889.03,391.21 890.09,391.48 891.15,392.61 892.22,391.63 893.28,391.29 894.35,391.26 895.41,392.32 896.47,391.90 897.54,393.23 898.60,393.07 899.66,393.46 900.73,392.19 901.79,392.01 902.85,392.22 903.92,393.21 904.98,393.81 906.05,393.47 907.11,393.22 908.17,393.77 909.24,394.36 910.30,394.65 911.36,395.01 912.43,395.43 913.49,395.28 914.55,394.42 915.62,396.07 916.68,395.20 917.75,395.96 918.81,395.79 919.87,396.74 920.94,395.88 922.00,396.19 922.98,396.43 923.97,396.49 924.95,398.19 925.93,397.82 926.92,397.56 927.90,397.94 928.88,399.38 929.87,398.65 930.85,398.34 931.83,399.73 932.82,399.66 933.80,400.58 934.77,399.05 935.75,400.03 936.72,400.96 937.70,401.25 938.67,401.64 939.65,400.13 940.62,400.88 941.60,400.77 942.58,401.15 943.55,402.96 944.52,402.42 945.50,403.36 946.56,402.35 947.63,403.45 948.69,402.73 949.75,402.46 950.82,403.60 951.88,404.05 952.95,402.48 954.01,403.57 955.07,403.72 956.14,403.03 957.20,403.44 959.00,403.60" stroke="#454545" stroke-width="7.0" fill="none" />
<polyline points="949.60,393.20 949.60,409.60" stroke="#454545" stroke-width="3" fill="none" />
</g>
<path d="M964.7,355.5 H677.1 V608.4 H964.7" fill="none" stroke="#000" stroke-width="2.1"/>
<path d="M964.2,355.5 H979.7 V608.4 H964.2" fill="none" stroke="#e3242b" stroke-width="2.1"/>
<line x1="979.70" y1="481.80" x2="971.70" y2="481.80" stroke="#e3242b" stroke-width="2" />
<line x1="727.37" y1="608.40" x2="727.37" y2="600.40" stroke="#000" stroke-width="2" />
<line x1="727.37" y1="355.50" x2="727.37" y2="363.50" stroke="#000" stroke-width="2" />
<line x1="777.74" y1="608.40" x2="777.74" y2="593.40" stroke="#000" stroke-width="2" />
<line x1="777.74" y1="355.50" x2="777.74" y2="370.50" stroke="#000" stroke-width="2" />
<line x1="828.11" y1="608.40" x2="828.11" y2="600.40" stroke="#000" stroke-width="2" />
<line x1="828.11" y1="355.50" x2="828.11" y2="363.50" stroke="#000" stroke-width="2" />
<line x1="878.48" y1="608.40" x2="878.48" y2="593.40" stroke="#000" stroke-width="2" />
<line x1="878.48" y1="355.50" x2="878.48" y2="370.50" stroke="#000" stroke-width="2" />
<line x1="928.85" y1="608.40" x2="928.85" y2="600.40" stroke="#000" stroke-width="2" />
<line x1="928.85" y1="355.50" x2="928.85" y2="363.50" stroke="#000" stroke-width="2" />
<line x1="677.10" y1="566.00" x2="692.10" y2="566.00" stroke="#000" stroke-width="2" />
<line x1="677.10" y1="523.90" x2="685.10" y2="523.90" stroke="#000" stroke-width="2" />
<line x1="677.10" y1="481.80" x2="692.10" y2="481.80" stroke="#000" stroke-width="2" />
<line x1="677.10" y1="439.70" x2="685.10" y2="439.70" stroke="#000" stroke-width="2" />
<line x1="677.10" y1="397.60" x2="692.10" y2="397.60" stroke="#000" stroke-width="2" />
<ellipse cx="761.0" cy="397.3" rx="35.8" ry="14.3" fill="none" stroke="#000" stroke-width="2"/>
<line x1="730.20" y1="405.90" x2="701.15" y2="410.66" stroke="#000" stroke-width="2.4" />
<polygon points="689.90,412.50 707.60,403.01 702.28,410.47 709.70,415.84" fill="#000" />
<ellipse cx="910.0" cy="466.6" rx="13.5" ry="5.5" fill="none" stroke="#e3242b" stroke-width="2"/>
<line x1="924.10" y1="465.80" x2="949.61" y2="464.83" stroke="#e3242b" stroke-width="2" />
<polygon points="961.00,464.40 942.23,470.92 948.47,464.88 941.79,459.32" fill="#e3242b" />
<line x1="866.90" y1="380.00" x2="828.27" y2="400.20" stroke="#000" stroke-width="2.6" />
<polygon points="818.70,405.20 831.78,391.37 830.50,399.03 837.52,402.35" fill="#000" />
<line x1="887.40" y1="387.60" x2="869.29" y2="416.82" stroke="#000" stroke-width="2.6" />
<polygon points="863.60,426.00 867.81,407.43 870.62,414.68 878.35,413.97" fill="#000" />
<line x1="799.20" y1="446.30" x2="817.09" y2="426.34" stroke="#000" stroke-width="2.6" />
<polygon points="824.30,418.30 816.90,435.84 815.41,428.22 807.67,427.56" fill="#000" />
<line x1="810.80" y1="450.60" x2="839.88" y2="435.00" stroke="#000" stroke-width="2.6" />
<polygon points="849.40,429.90 836.47,443.87 837.66,436.20 830.61,432.94" fill="#000" />
<line x1="816.60" y1="490.80" x2="861.64" y2="450.59" stroke="#000" stroke-width="2.6" />
<polygon points="869.70,443.40 860.40,460.01 859.76,452.27 852.14,450.76" fill="#000" />
<line x1="836.90" y1="496.50" x2="870.51" y2="480.86" stroke="#000" stroke-width="2.6" />
<polygon points="880.30,476.30 866.60,489.52 868.22,481.92 861.36,478.27" fill="#000" />
<line x1="846.50" y1="511.00" x2="879.45" y2="503.73" stroke="#000" stroke-width="2.6" />
<polygon points="890.00,501.40 873.76,511.33 876.99,504.27 871.09,499.22" fill="#000" />
<line x1="844.60" y1="519.70" x2="889.60" y2="519.78" stroke="#000" stroke-width="2.6" />
<polygon points="900.40,519.80 882.39,525.97 887.08,519.78 882.41,513.57" fill="#000" />
<line x1="886.10" y1="544.00" x2="903.58" y2="536.47" stroke="#000" stroke-width="2.6" />
<polygon points="913.50,532.20 899.42,545.01 901.27,537.47 894.52,533.63" fill="#000" />
<line x1="895.60" y1="554.70" x2="919.31" y2="553.88" stroke="#000" stroke-width="2.6" />
<polygon points="930.10,553.50 912.33,560.32 916.79,553.96 911.90,547.93" fill="#000" />
<line x1="918.20" y1="579.70" x2="931.67" y2="571.17" stroke="#000" stroke-width="2.6" />
<polygon points="940.80,565.40 928.90,580.26 929.54,572.52 922.27,569.79" fill="#000" />
<text x="635.28" y="402.50" font-family="'Liberation Sans', Arial, sans-serif" font-size="17.50" fill="#1a1a1a" stroke="#1a1a1a" stroke-width="0.3" textLength="26.39" lengthAdjust="spacingAndGlyphs" >1.0</text>
<text x="635.96" y="487.50" font-family="'Liberation Sans', Arial, sans-serif" font-size="17.50" fill="#1a1a1a" stroke="#1a1a1a" stroke-width="0.3" textLength="25.79" lengthAdjust="spacingAndGlyphs" >0.8</text>
<text x="635.96" y="571.70" font-family="'Liberation Sans', Arial, sans-serif" font-size="17.50" fill="#1a1a1a" stroke="#1a1a1a" stroke-width="0.3" textLength="25.79" lengthAdjust="spacingAndGlyphs" >0.6</text>
<text x="671.85" y="639.20" font-family="'Liberation Sans', Arial, sans-serif" font-size="16.70" fill="#1a1a1a" stroke="#1a1a1a" stroke-width="0.3" textLength="10.43" lengthAdjust="spacingAndGlyphs" >0</text>
<text x="767.17" y="639.20" font-family="'Liberation Sans', Arial, sans-serif" font-size="16.70" fill="#1a1a1a" stroke="#1a1a1a" stroke-width="0.3" textLength="20.31" lengthAdjust="spacingAndGlyphs" >30</text>
<text x="868.26" y="639.20" font-family="'Liberation Sans', Arial, sans-serif" font-size="16.70" fill="#1a1a1a" stroke="#1a1a1a" stroke-width="0.3" textLength="20.84" lengthAdjust="spacingAndGlyphs" >60</text>
<text x="968.53" y="639.20" font-family="'Liberation Sans', Arial, sans-serif" font-size="16.70" fill="#1a1a1a" stroke="#1a1a1a" stroke-width="0.3" textLength="21.49" lengthAdjust="spacingAndGlyphs" >90</text>
<text x="739.60" y="660.50" font-family="'Liberation Sans', Arial, sans-serif" font-size="22.30" fill="#1a1a1a" stroke="#1a1a1a" stroke-width="0.3" textLength="177.30" lengthAdjust="spacingAndGlyphs" >Elapsed time (min)</text>
<text x="986.77" y="359.60" font-family="'Liberation Sans', Arial, sans-serif" font-size="17.50" fill="#e3242b" stroke="#e3242b" stroke-width="0.3" textLength="25.77" lengthAdjust="spacingAndGlyphs" >6.5</text>
<text x="987.12" y="612.60" font-family="'Liberation Sans', Arial, sans-serif" font-size="17.50" fill="#e3242b" stroke="#e3242b" stroke-width="0.3" textLength="24.50" lengthAdjust="spacingAndGlyphs" >6.0</text>
<g transform="translate(1011.00,508.60) rotate(-90)"><text x="-1.41" y="0" font-family="'Liberation Sans', Arial, sans-serif" font-size="21.60" fill="#e3242b" textLength="27.72" lengthAdjust="spacingAndGlyphs">pH</text></g>
<g transform="translate(625.6,540.6) rotate(-90)"><text x="0" y="0" font-family="'Liberation Sans', Arial, sans-serif" font-size="20.8" fill="#1a1a1a" textLength="88.4" lengthAdjust="spacingAndGlyphs">I<tspan font-size="10.4" dy="8.2">ds</tspan><tspan dy="-8.2">/I</tspan><tspan font-size="10.4" dy="8.2">ds</tspan><tspan dy="-8.2">(t=0)</tspan></text></g>
<text x="867.78" y="381.80" font-family="'Liberation Sans', Arial, sans-serif" font-size="17.50" fill="#1a1a1a" stroke="#1a1a1a" stroke-width="0.3" textLength="62.15" lengthAdjust="spacingAndGlyphs" >+10 µM</text>
<text x="761.69" y="464.10" font-family="'Liberation Sans', Arial, sans-serif" font-size="17.50" fill="#1a1a1a" stroke="#1a1a1a" stroke-width="0.3" textLength="51.61" lengthAdjust="spacingAndGlyphs" >+5 µM</text>
<text x="778.09" y="514.90" font-family="'Liberation Sans', Arial, sans-serif" font-size="17.50" fill="#1a1a1a" stroke="#1a1a1a" stroke-width="0.3" textLength="61.32" lengthAdjust="spacingAndGlyphs" >+50 µM</text>
<text x="816.18" y="561.60" font-family="'Liberation Sans', Arial, sans-serif" font-size="17.50" fill="#1a1a1a" stroke="#1a1a1a" stroke-width="0.3" textLength="72.79" lengthAdjust="spacingAndGlyphs" >+100 µM</text>
<text x="849.08" y="590.90" font-family="'Liberation Sans', Arial, sans-serif" font-size="17.50" fill="#1a1a1a" stroke="#1a1a1a" stroke-width="0.3" textLength="72.79" lengthAdjust="spacingAndGlyphs" >+150 µM</text>
<text x="695.87" y="563.60" font-family="'Liberation Sans', Arial, sans-serif" font-size="18.40" fill="#1a1a1a" stroke="#1a1a1a" stroke-width="0.3" textLength="13.81" lengthAdjust="spacingAndGlyphs" >U</text>
<text x="708.80" y="570.20" font-family="'Liberation Sans', Arial, sans-serif" font-size="9.60" fill="#1a1a1a" stroke="#1a1a1a" stroke-width="0.3" textLength="13.26" lengthAdjust="spacingAndGlyphs" >ds</text>
<text x="720.90" y="563.60" font-family="'Liberation Sans', Arial, sans-serif" font-size="18.40" fill="#1a1a1a" stroke="#1a1a1a" stroke-width="0.3" textLength="78.86" lengthAdjust="spacingAndGlyphs" >=-100 mV</text>
<text x="695.87" y="592.60" font-family="'Liberation Sans', Arial, sans-serif" font-size="18.40" fill="#1a1a1a" stroke="#1a1a1a" stroke-width="0.3" textLength="13.81" lengthAdjust="spacingAndGlyphs" >U</text>
<text x="708.80" y="597.20" font-family="'Liberation Sans', Arial, sans-serif" font-size="9.60" fill="#1a1a1a" stroke="#1a1a1a" stroke-width="0.3" textLength="13.26" lengthAdjust="spacingAndGlyphs" >gs</text>
<text x="720.90" y="592.60" font-family="'Liberation Sans', Arial, sans-serif" font-size="18.40" fill="#1a1a1a" stroke="#1a1a1a" stroke-width="0.3" textLength="78.86" lengthAdjust="spacingAndGlyphs" >=-540 mV</text>
<defs>
<linearGradient id="gGold" x1="0" x2="1" y1="0" y2="0">
 <stop offset="0" stop-color="#d39a22"/><stop offset="0.28" stop-color="#e6bc58"/><stop offset="0.41" stop-color="#fcf6e4"/><stop offset="0.55" stop-color="#e6ba4c"/><stop offset="1" stop-color="#d29820"/></linearGradient>
<linearGradient id="gGold2" x1="0" x2="1" y1="0" y2="0">
 <stop offset="0" stop-color="#dca02a"/><stop offset="0.22" stop-color="#f0d488"/><stop offset="0.36" stop-color="#fcf6e6"/><stop offset="0.55" stop-color="#e8bc50"/><stop offset="1" stop-color="#d8a02a"/></linearGradient>
<linearGradient id="gSub" x1="0" x2="0" y1="0" y2="1">
 <stop offset="0" stop-color="#eeeef2"/><stop offset="0.5" stop-color="#e2e2e6"/><stop offset="1" stop-color="#cfd0d4"/></linearGradient>
<linearGradient id="gSubH" x1="0" x2="1" y1="0" y2="0">
 <stop offset="0" stop-color="#e2e2ea"/><stop offset="0.3" stop-color="#d6d6dc"/><stop offset="0.6" stop-color="#cacace"/><stop offset="1" stop-color="#c2c2c6"/></linearGradient>
<linearGradient id="gFilm" x1="181" x2="378" y1="0" y2="0" gradientUnits="userSpaceOnUse">
 <stop offset="0" stop-color="#f27030"/><stop offset="0.3" stop-color="#ec6e2e"/><stop offset="0.5" stop-color="#c8784e"/><stop offset="0.62" stop-color="#b47250"/><stop offset="1" stop-color="#ad6c4c"/></linearGradient>
<linearGradient id="gPas" x1="0" x2="0" y1="0" y2="1">
 <stop offset="0" stop-color="#e4e5ee"/><stop offset="1" stop-color="#dadbe6"/></linearGradient>
<linearGradient id="gPas2" x1="0" x2="1" y1="0" y2="0">
 <stop offset="0" stop-color="#d6d7e0"/><stop offset="1" stop-color="#e2e2e8"/></linearGradient>
<linearGradient id="gSide" x1="0" x2="0" y1="0" y2="1">
 <stop offset="0" stop-color="#b2b6ca"/><stop offset="1" stop-color="#c0c2c8"/></linearGradient>
<linearGradient id="gElec" x1="0" x2="1" y1="0" y2="0">
 <stop offset="0" stop-color="#cbcbcb"/><stop offset="0.25" stop-color="#e4e4e6"/><stop offset="0.7" stop-color="#dedee0"/><stop offset="1" stop-color="#c6c6c6"/></linearGradient>
<linearGradient id="gSlope" x1="0" x2="0" y1="0" y2="1">
 <stop offset="0" stop-color="#eef0f6"/><stop offset="0.55" stop-color="#f0ecd8"/><stop offset="1" stop-color="#efdca8"/></linearGradient>
</defs>
<text x="115.40" y="41.50" font-family="'Liberation Sans', Arial, sans-serif" font-size="21.00" fill="#2c2c2c" stroke="#2c2c2c" stroke-width="0.3" textLength="79.38" lengthAdjust="spacingAndGlyphs" >Ag/AgCl</text>
<text x="62.40" y="66.40" font-family="'Liberation Sans', Arial, sans-serif" font-size="21.00" fill="#2c2c2c" stroke="#2c2c2c" stroke-width="0.3" textLength="184.99" lengthAdjust="spacingAndGlyphs" >reference electrode</text>
<text x="339.89" y="21.90" font-family="'Liberation Sans', Arial, sans-serif" font-size="21.00" fill="#2c2c2c" stroke="#2c2c2c" stroke-width="0.3" textLength="77.43" lengthAdjust="spacingAndGlyphs" >Enzyme</text>
<text x="78.23" y="134.90" font-family="'Liberation Sans', Arial, sans-serif" font-size="21.00" fill="#2c2c2c" stroke="#2c2c2c" stroke-width="0.3" textLength="157.64" lengthAdjust="spacingAndGlyphs" >α-Sexithiophene</text>
<text x="435.77" y="109.00" font-family="'Liberation Sans', Arial, sans-serif" font-size="21.00" fill="#2c2c2c" stroke="#2c2c2c" stroke-width="0.3" textLength="110.41" lengthAdjust="spacingAndGlyphs" >Passivating</text>
<text x="436.15" y="133.80" font-family="'Liberation Sans', Arial, sans-serif" font-size="21.00" fill="#2c2c2c" stroke="#2c2c2c" stroke-width="0.3" textLength="45.12" lengthAdjust="spacingAndGlyphs" >layer</text>
<text x="209.00" y="245.10" font-family="'Liberation Sans', Arial, sans-serif" font-size="21.00" fill="#2c2c2c" stroke="#2c2c2c" stroke-width="0.3" textLength="113.97" lengthAdjust="spacingAndGlyphs" >Au contacts</text>
<path d="M207.5,37.0 H260.8 V55" fill="none" stroke="#222" stroke-width="2.6"/>
<rect x="253.6" y="54.6" width="14.8" height="70.4" rx="3.6" ry="3.6" fill="url(#gElec)" stroke="#b4b4b4" stroke-width="0.9"/>
<rect x="110.5" y="206.6" width="319.9" height="15.2" fill="url(#gSubH)" stroke="#a9a9ad" stroke-width="0.8"/>
<rect x="110.5" y="219.5" width="319.9" height="2.3" fill="#b8b8be" opacity="0.6"/>
<rect x="110.5" y="207.0" width="319.9" height="1.6" fill="#f4f4f6" opacity="0.8"/>
<polygon points="430.40,206.60 500.00,188.00 500.00,204.00 430.40,221.80" fill="#c3c4c9" stroke="#a0a0a6" stroke-width="0.8"/>
<polygon points="430.40,201.00 500.00,182.50 500.00,188.00 430.40,206.60" fill="#f0c21e" />
<polygon points="430.40,180.00 500.00,163.20 500.00,182.50 430.40,201.00" fill="url(#gSide)" stroke="#9ea2b2" stroke-width="0.8"/>
<polygon points="110.50,182.00 197.60,163.20 282.00,163.20 181.00,182.00" fill="#eeeff5" stroke="#c4c5cc" stroke-width="0.8"/>
<polygon points="181.00,182.00 282.00,163.20 292.00,175.20 181.00,187.50" fill="url(#gSlope)" />
<polygon points="181.00,187.50 292.00,175.20 378.00,175.20 378.00,194.00 181.00,197.00" fill="url(#gFilm)" />
<polygon points="236.00,193.20 300.00,189.50 378.00,188.50 378.00,194.00 236.00,195.50" fill="#a35d3d" opacity="0.85"/>
<polygon points="181.00,196.00 378.00,193.50 378.00,206.60 181.00,206.60" fill="#d48f6e" />
<polygon points="181.00,194.20 236.00,192.60 256.00,192.40 217.00,200.40 181.00,200.40" fill="#eba038" />
<polygon points="323.40,201.00 352.00,194.20 364.00,194.20 364.00,201.00" fill="#e9a62e" />
<rect x="110.5" y="200.4" width="106.6" height="6.2" fill="url(#gGold)" stroke="#b08a30" stroke-width="0.6"/>
<rect x="323.4" y="200.4" width="107" height="6.2" fill="url(#gGold2)" stroke="#b08a30" stroke-width="0.6"/>
<path d="M110.5,182 H176 Q181,182 181,187 V200.4 H110.5 Z" fill="url(#gPas)" stroke="#b8b9c2" stroke-width="0.8"/>
<polygon points="118.00,200.20 176.00,184.50 180.50,186.00 180.50,200.20" fill="#ece5bc" opacity="0.75"/>
<polygon points="367.00,181.00 378.00,176.00 435.00,163.20 500.00,163.20 430.40,180.00" fill="#e9eaf1" stroke="#c0c2cc" stroke-width="0.6"/>
<polygon points="365.00,182.00 368.00,177.50 437.00,176.50 430.40,181.00" fill="#c9cad3" />
<path d="M430.4,181 H368 Q362.7,181 362.7,186 V201 H430.4 Z" fill="url(#gPas2)" stroke="#b8b9c2" stroke-width="0.8"/>
<polygon points="372.00,201.00 430.00,187.00 430.00,201.00" fill="#e6e2c4" opacity="0.7"/>
<line x1="430.4" y1="180" x2="430.4" y2="221.8" stroke="#9a9aa2" stroke-width="0.8"/>
<text x="237.85" y="219.60" font-family="'Liberation Sans', Arial, sans-serif" font-size="18.20" fill="#2c2c2c" stroke="#2c2c2c" stroke-width="0.3" textLength="76.05" lengthAdjust="spacingAndGlyphs" >substrate</text>
<g transform="translate(310.2,53.6) scale(1.0)" stroke-linejoin="round" stroke-linecap="round" fill="none">
<path d="M34,5 c4,-3 9,-2 10,2 c4,0 7,3 5,7 c3,3 1,8 -3,8 c0,4 -4,6 -7,4 c-2,2 -5,1 -5,-2 M37,9 c4,2 6,6 3,9 M44,12 c2,3 1,7 -2,8 M33,20 c3,2 6,2 8,0" stroke="#a6e2ea" stroke-width="1.2"/>
<path d="M28,11 l4,-2 l-1,4 l4,-2 l-1,4 l4,-2 l-1,4 l4,-2 l-1,4 l3,-1 M30,18 l4,-1 l-1,3 l4,-1 l-1,3 l4,-1" stroke="#1b8e8a" stroke-width="2.6"/>
<path d="M29,13 l10,9 M31,20 l5,6" stroke="#17668e" stroke-width="1.6"/>
<path d="M12,12 C15,16 19,22 23,27 M15,9 C18,14 22,19 26,24 M18,6 C21,10 25,15 29,20 M22,4 C25,8 28,12 31,15 M10,17 C13,21 16,25 18,29" stroke="#6cc23c" stroke-width="2.4"/>
<path d="M13,15 C16,19 19,23 21,27 M17,8 C20,12 23,17 26,21 M21,5 C24,9 27,13 29,17" stroke="#c2e055" stroke-width="1.5"/>
<path d="M9,20 c3,1 5,4 6,7 M24,28 c2,-2 5,-2 6,0 M27,3 c2,-1 4,0 5,2" stroke="#3e9e36" stroke-width="1.4"/>
<circle cx="28.5" cy="27" r="2.1" fill="#2f9a44" stroke="none"/><circle cx="30" cy="6.5" r="1.8" fill="#3aa040" stroke="none"/>
<path d="M10,15 l3,-3 l1,3 l3,-4 l1,3 l3,-4 l0,3 l2,-4 M11,9 l3,-2 l1,3 l3,-3 l1,2 l2,-3" stroke="#2b3a9c" stroke-width="2.6"/>
<path d="M0,23 c2,-2 3,-5 6,-5 c2,0 2,-3 5,-3 M2,19 c2,0 3,-2 5,-2 M4,24 c1,-2 3,-3 4,-2 M13,5 c1,-2 3,-2 4,-1" stroke="#2b3a9c" stroke-width="1.6"/>
</g>
<g transform="translate(239.0,159.8) scale(0.98)" stroke-linejoin="round" stroke-linecap="round" fill="none">
<path d="M34,5 c4,-3 9,-2 10,2 c4,0 7,3 5,7 c3,3 1,8 -3,8 c0,4 -4,6 -7,4 c-2,2 -5,1 -5,-2 M37,9 c4,2 6,6 3,9 M44,12 c2,3 1,7 -2,8 M33,20 c3,2 6,2 8,0" stroke="#a6e2ea" stroke-width="1.2"/>
<path d="M28,11 l4,-2 l-1,4 l4,-2 l-1,4 l4,-2 l-1,4 l4,-2 l-1,4 l3,-1 M30,18 l4,-1 l-1,3 l4,-1 l-1,3 l4,-1" stroke="#1b8e8a" stroke-width="2.6"/>
<path d="M29,13 l10,9 M31,20 l5,6" stroke="#17668e" stroke-width="1.6"/>
<path d="M12,12 C15,16 19,22 23,27 M15,9 C18,14 22,19 26,24 M18,6 C21,10 25,15 29,20 M22,4 C25,8 28,12 31,15 M10,17 C13,21 16,25 18,29" stroke="#6cc23c" stroke-width="2.4"/>
<path d="M13,15 C16,19 19,23 21,27 M17,8 C20,12 23,17 26,21 M21,5 C24,9 27,13 29,17" stroke="#c2e055" stroke-width="1.5"/>
<path d="M9,20 c3,1 5,4 6,7 M24,28 c2,-2 5,-2 6,0 M27,3 c2,-1 4,0 5,2" stroke="#3e9e36" stroke-width="1.4"/>
<circle cx="28.5" cy="27" r="2.1" fill="#2f9a44" stroke="none"/><circle cx="30" cy="6.5" r="1.8" fill="#3aa040" stroke="none"/>
<path d="M10,15 l3,-3 l1,3 l3,-4 l1,3 l3,-4 l0,3 l2,-4 M11,9 l3,-2 l1,3 l3,-3 l1,2 l2,-3" stroke="#2b3a9c" stroke-width="2.6"/>
<path d="M0,23 c2,-2 3,-5 6,-5 c2,0 2,-3 5,-3 M2,19 c2,0 3,-2 5,-2 M4,24 c1,-2 3,-3 4,-2 M13,5 c1,-2 3,-2 4,-1" stroke="#2b3a9c" stroke-width="1.6"/>
</g>
<path d="M326.8,81 C322.5,86 324,91 329,94.5 C335,98 337.5,101 334,105.5" fill="none" stroke="#2b8fd2" stroke-width="3.2" stroke-linecap="round"/>
<text x="290.87" y="113.90" font-family="'Liberation Sans', Arial, sans-serif" font-weight="bold" font-size="15.50" fill="#2a8fd4" stroke="#2a8fd4" stroke-width="0" textLength="25.03" lengthAdjust="spacingAndGlyphs" >NH</text>
<text x="315.02" y="117.70" font-family="'Liberation Sans', Arial, sans-serif" font-weight="bold" font-size="9.50" fill="#2a8fd4" stroke="#2a8fd4" stroke-width="0" textLength="4.40" lengthAdjust="spacingAndGlyphs" >2</text>
<text x="321.95" y="113.90" font-family="'Liberation Sans', Arial, sans-serif" font-size="10.50" fill="#333" stroke="#333" stroke-width="0.3" textLength="17.15" lengthAdjust="spacingAndGlyphs" >NH</text>
<g fill="none" stroke="#444" stroke-width="1.4">
<polyline points="297,115.5 303.6,124 297,132.9 303.6,141.7 297,149.5"/>
<polyline points="326,115.5 333,123.4 326,132.2 333,141.7 326,149.5"/>
<line x1="296.4" y1="160.5" x2="296.4" y2="167.2"/><line x1="326.8" y1="160.5" x2="326.8" y2="167.2"/>
<polyline points="301.4,158.3 309.2,163.8"/><polyline points="315.2,163.8 322.4,158.3"/>
</g>
<g fill="none" stroke="#333" stroke-width="1.4">
<line x1="296.9" y1="176" x2="296.9" y2="183"/><line x1="326.9" y1="176" x2="326.9" y2="183"/><line x1="346.3" y1="181" x2="346.3" y2="187.5"/>
</g>
<text x="292.12" y="159.40" font-family="'Liberation Sans', Arial, sans-serif" font-size="10.20" fill="#333" stroke="#333" stroke-width="0.3" textLength="9.41" lengthAdjust="spacingAndGlyphs" >Si</text>
<text x="321.79" y="159.40" font-family="'Liberation Sans', Arial, sans-serif" font-size="10.20" fill="#333" stroke="#333" stroke-width="0.3" textLength="10.10" lengthAdjust="spacingAndGlyphs" >Si</text>
<text x="307.95" y="169.50" font-family="'Liberation Sans', Arial, sans-serif" font-size="10.20" fill="#333" stroke="#333" stroke-width="0.3" textLength="7.83" lengthAdjust="spacingAndGlyphs" >O</text>
<text x="292.70" y="175.80" font-family="'Liberation Sans', Arial, sans-serif" font-size="10.20" fill="#333" stroke="#333" stroke-width="0.3" textLength="8.63" lengthAdjust="spacingAndGlyphs" >O</text>
<text x="323.04" y="175.80" font-family="'Liberation Sans', Arial, sans-serif" font-size="10.20" fill="#333" stroke="#333" stroke-width="0.3" textLength="7.95" lengthAdjust="spacingAndGlyphs" >O</text>
<text x="340.15" y="167.00" font-family="'Liberation Sans', Arial, sans-serif" font-weight="bold" font-size="11.20" fill="#2a8fd4" stroke="#2a8fd4" stroke-width="0" textLength="11.63" lengthAdjust="spacingAndGlyphs" >H</text>
<text x="339.98" y="180.90" font-family="'Liberation Sans', Arial, sans-serif" font-weight="bold" font-size="13.00" fill="#2a8fd4" stroke="#2a8fd4" stroke-width="0" textLength="11.97" lengthAdjust="spacingAndGlyphs" >O</text>
<line x1="372.80" y1="28.10" x2="355.18" y2="49.60" stroke="#222" stroke-width="1.8" />
<polygon points="351.00,54.70 354.49,43.34 355.60,49.08 361.45,49.04" fill="#222" />
<line x1="185.00" y1="140.50" x2="229.34" y2="192.86" stroke="#222" stroke-width="1.8" />
<polygon points="233.60,197.90 223.06,192.41 228.91,192.36 229.93,186.60" fill="#222" />
<line x1="460.90" y1="138.00" x2="435.28" y2="169.29" stroke="#222" stroke-width="1.8" />
<polygon points="431.10,174.40 434.59,163.04 435.70,168.78 441.55,168.74" fill="#222" />
<path d="M206.2,236.5 C190,232 180,222 178.5,213" fill="none" stroke="#222" stroke-width="1.8"/>
<polygon points="177.20,206.50 182.50,217.00 178.30,214.50 173.80,217.80" fill="#222" />
<path d="M327.6,238.7 C345,234 353,224 355.6,213" fill="none" stroke="#222" stroke-width="1.8"/>
<polygon points="356.80,206.30 359.80,217.60 355.80,214.60 351.20,217.00" fill="#222" />
</svg>
</body></html>
